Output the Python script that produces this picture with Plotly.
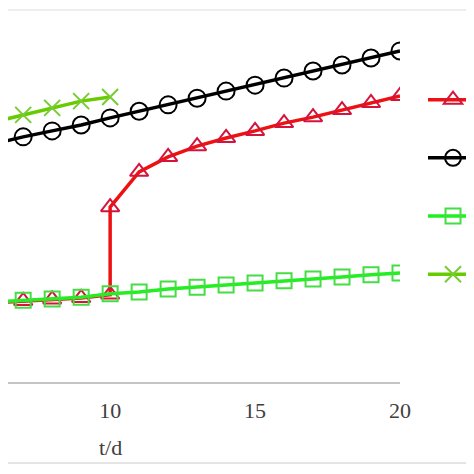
import plotly.graph_objects as go

# ---- data (y in arbitrary units) ----
days = [6, 7, 8, 9, 10, 11, 12, 13, 14, 15, 16, 17, 18, 19, 20]

red_days = [6, 7, 8, 9, 10, 10, 11, 12, 13, 14, 15, 16, 17, 18, 19, 20]
red_vals = [21.3, 21.8, 22.2, 22.6, 23.5, 47.0, 56.5, 60.5, 63.4, 65.6, 67.5, 69.6, 71.2, 73.1, 75.0, 76.9]

black_vals = [64.0, 65.9, 67.5, 69.1, 71.0, 72.8, 74.5, 76.3, 78.2, 79.8, 81.7, 83.6, 85.2, 87.1, 89.0]

green_sq_vals = [21.5, 22.0, 22.3, 22.8, 23.7, 24.2, 25.0, 25.5, 26.1, 26.6, 27.2, 27.7, 28.2, 28.8, 29.3]

cross_days = [6, 7, 8, 9, 10]
cross_vals = [69.9, 71.8, 73.7, 75.5, 76.6]

# legend labels are cut off in the reference (nothing visible)
names = ["", "", "", ""]
tick_vals = [10, 15, 20]
tick_text = ["10", "15", "20"]
x_title = "t/d"

fig = go.Figure()
fig.add_trace(go.Scatter(
    x=red_days, y=red_vals, name=names[0], mode="lines+markers", legendgroup="g1", showlegend=True,
    line=dict(color="#ee1111", width=3.5),
    marker=dict(symbol="triangle-up-open", size=16, color="#d4143c", line=dict(width=2, color="#d4143c"))))
fig.add_trace(go.Scatter(
    x=days, y=black_vals, name=names[1], mode="lines+markers", legendgroup="g2", showlegend=True,
    line=dict(color="#000000", width=3.5),
    marker=dict(symbol="circle-open", size=17, color="#000000", line=dict(width=2, color="#000000"))))
fig.add_trace(go.Scatter(
    x=days, y=green_sq_vals, name=names[2], mode="lines+markers", legendgroup="g3", showlegend=True,
    line=dict(color="#22ee22", width=3.5),
    marker=dict(symbol="square-open", size=15, color="#44dd44", line=dict(width=2, color="#44dd44"))))
fig.add_trace(go.Scatter(
    x=cross_days, y=cross_vals, name=names[3], mode="lines+markers", legendgroup="g4", showlegend=True,
    line=dict(color="#66cc00", width=3.5),
    marker=dict(symbol="x-thin-open", size=16, color="#77cc33", line=dict(width=2, color="#77cc33"))))

fig.update_layout(
    width=474, height=474,
    margin=dict(l=0, r=82, t=2, b=100, autoexpand=False),
    plot_bgcolor="white", paper_bgcolor="white",
    showlegend=True,
    legend=dict(x=1.0587, xanchor="left", y=0.801, yanchor="top", yref="paper",
                itemwidth=50, font=dict(size=14, color="#404040", family="Liberation Serif"),
                bgcolor="rgba(0,0,0,0)", tracegroupgap=37),
    xaxis=dict(range=[6.476, 20], tickvals=tick_vals, ticktext=tick_text, showgrid=False, zeroline=False,
               showline=True, linecolor="#c4c4c4", linewidth=1.5, ticks="", ticklabelstandoff=8,
               tickfont=dict(family="Liberation Serif", size=22, color="#404040")),
    yaxis=dict(range=[0, 100], visible=False, showgrid=False, zeroline=False),
    annotations=[dict(x=10, y=-0.177, xref="x", yref="paper", text=x_title, showarrow=False,
                      yanchor="middle", font=dict(family="Liberation Serif", size=22, color="#404040"))],
    shapes=[
        dict(type="line", xref="paper", yref="paper", x0=0.0, x1=1.22, y0=1.0, y1=1.0,
             line=dict(color="#eeeeee", width=2)),
        dict(type="line", xref="paper", yref="paper", x0=0, x1=1.22, y0=-0.2177, y1=-0.2177,
             line=dict(color="#e4e4e4", width=2)),
    ],
)

fig.write_html("out.html")
